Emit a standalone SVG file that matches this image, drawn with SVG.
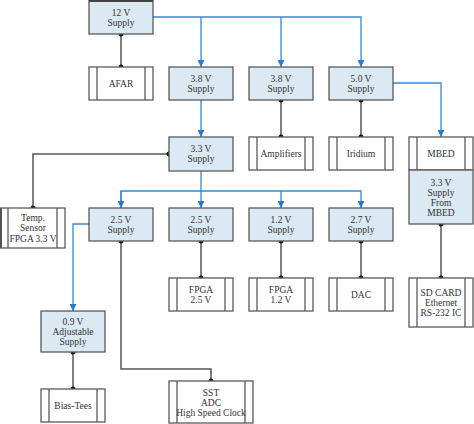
<svg xmlns="http://www.w3.org/2000/svg" width="474" height="424" viewBox="0 0 474 424">
<defs>
<style>
.sup{fill:#dbe9f2;stroke:#5a5a5a;stroke-width:1.3}
.box{fill:#fff;stroke:#5a5a5a;stroke-width:1.3}
.in{stroke:#5a5a5a;stroke-width:1.3;fill:none}
.bl{stroke:#3a87d0;stroke-width:1.3;fill:none}
.gr{stroke:#555;stroke-width:1.5;fill:none}
.dot{fill:#111}
text{font-family:"Liberation Serif","DejaVu Serif",serif;font-size:9.5px;fill:#333;text-anchor:middle}
</style>
<marker id="ah" viewBox="0 0 10 10" refX="10" refY="5" markerWidth="7" markerHeight="7" markerUnits="userSpaceOnUse" orient="auto">
<path d="M0,0 L10,5 L0,10 z" fill="#2a7cc9"/>
</marker>
</defs>
<g id="connectors">
<path class="bl" d="M153,17 H361 V67" marker-end="url(#ah)"/>
<path class="bl" d="M201,17 V67" marker-end="url(#ah)"/>
<path class="bl" d="M281,17 V67" marker-end="url(#ah)"/>
<path class="bl" d="M393,83 H441 V137" marker-end="url(#ah)"/>
<path class="bl" d="M201,100 V137" marker-end="url(#ah)"/>
<path class="bl" d="M201,171 V208" marker-end="url(#ah)"/>
<path class="bl" d="M121,208 V191 H361 V208" marker-end="url(#ah)"/>
<path class="bl" d="M121,191 V208" marker-end="url(#ah)"/>
<path class="bl" d="M281,191 V208" marker-end="url(#ah)"/>
<path class="bl" d="M89,224 H73 V311" marker-end="url(#ah)"/>
<path class="gr" d="M121,34 V67"/>
<path class="gr" d="M281,100 V137"/>
<path class="gr" d="M361,100 V137"/>
<path class="gr" d="M169,154 H33 V208"/>
<path class="gr" d="M201,241 V278"/>
<path class="gr" d="M281,241 V278"/>
<path class="gr" d="M361,241 V278"/>
<path class="gr" d="M441,224 V278"/>
<path class="gr" d="M121,241 V369 H211 V381"/>
<path class="gr" d="M73,352 V389"/>
<circle class="dot" cx="121" cy="34" r="2.5"/><circle class="dot" cx="121" cy="67" r="2.5"/>
<circle class="dot" cx="281" cy="100" r="2.5"/><circle class="dot" cx="281" cy="137" r="2.5"/>
<circle class="dot" cx="361" cy="100" r="2.5"/><circle class="dot" cx="361" cy="137" r="2.5"/>
<circle class="dot" cx="169" cy="154" r="2.5"/><circle class="dot" cx="33" cy="208" r="2.5"/>
<circle class="dot" cx="201" cy="241" r="2.5"/><circle class="dot" cx="201" cy="278" r="2.5"/>
<circle class="dot" cx="281" cy="241" r="2.5"/><circle class="dot" cx="281" cy="278" r="2.5"/>
<circle class="dot" cx="361" cy="241" r="2.5"/><circle class="dot" cx="361" cy="278" r="2.5"/>
<circle class="dot" cx="441" cy="224" r="2.5"/><circle class="dot" cx="441" cy="278" r="2.5"/>
<circle class="dot" cx="121" cy="241" r="2.5"/><circle class="dot" cx="211" cy="381" r="2.5"/>
<circle class="dot" cx="73" cy="352" r="2.5"/><circle class="dot" cx="73" cy="389" r="2.5"/>
</g>
<g id="s12"><rect class="sup" x="89" y="0.5" width="64" height="33.5"/><line x1="89" y1="1" x2="153" y2="1" stroke="#444" stroke-width="2"/><text x="121" y="16">12 V</text><text x="121" y="26">Supply</text></g>
<g id="afar"><rect class="box" x="89" y="67" width="64" height="33"/><path class="in" d="M97,67 V100 M145,67 V100"/><text x="121" y="87">AFAR</text></g>
<g id="s38a"><rect class="sup" x="169" y="67" width="64" height="33"/><text x="201" y="82">3.8 V</text><text x="201" y="92">Supply</text></g>
<g id="s38b"><rect class="sup" x="249" y="67" width="64" height="33"/><text x="281" y="82">3.8 V</text><text x="281" y="92">Supply</text></g>
<g id="s50"><rect class="sup" x="329" y="67" width="64" height="33"/><text x="361" y="82">5.0 V</text><text x="361" y="92">Supply</text></g>
<g id="s33"><rect class="sup" x="169" y="137" width="64" height="34"/><text x="201" y="152">3.3 V</text><text x="201" y="162">Supply</text></g>
<g id="amp"><rect class="box" x="249" y="137" width="64" height="33"/><path class="in" d="M257,137 V170 M305,137 V170"/><text x="281" y="157">Amplifiers</text></g>
<g id="iri"><rect class="box" x="329" y="137" width="64" height="33"/><path class="in" d="M337,137 V170 M385,137 V170"/><text x="361" y="157">Iridium</text></g>
<g id="mbed"><rect class="box" x="409" y="137" width="64" height="33"/><path class="in" d="M417,137 V170 M465,137 V170"/><text x="441" y="157">MBED</text></g>
<g id="s33m"><rect class="sup" x="409" y="170" width="64" height="54"/><text x="441" y="186">3.3 V</text><text x="441" y="196">Supply</text><text x="441" y="206">From</text><text x="441" y="216">MBED</text></g>
<g id="temp"><rect class="box" x="0.5" y="208" width="64.5" height="40"/><path class="in" d="M8,208 V248 M57,208 V248"/><line x1="1" y1="208" x2="1" y2="248" stroke="#555" stroke-width="2"/><text x="33" y="221">Temp.</text><text x="33" y="231">Sensor</text><text x="33" y="242">FPGA 3.3 V</text></g>
<g id="s25a"><rect class="sup" x="89" y="208" width="64" height="33"/><text x="121" y="223">2.5 V</text><text x="121" y="233">Supply</text></g>
<g id="s25b"><rect class="sup" x="169" y="208" width="64" height="33"/><text x="201" y="223">2.5 V</text><text x="201" y="233">Supply</text></g>
<g id="s12v"><rect class="sup" x="249" y="208" width="64" height="33"/><text x="281" y="223">1.2 V</text><text x="281" y="233">Supply</text></g>
<g id="s27"><rect class="sup" x="329" y="208" width="64" height="33"/><text x="361" y="223">2.7 V</text><text x="361" y="233">Supply</text></g>
<g id="fpga25"><rect class="box" x="169" y="278" width="64" height="33"/><path class="in" d="M177,278 V311 M225,278 V311"/><text x="201" y="293">FPGA</text><text x="201" y="303">2.5 V</text></g>
<g id="fpga12"><rect class="box" x="249" y="278" width="64" height="33"/><path class="in" d="M257,278 V311 M305,278 V311"/><text x="281" y="293">FPGA</text><text x="281" y="303">1.2 V</text></g>
<g id="dac"><rect class="box" x="329" y="278" width="64" height="33"/><path class="in" d="M337,278 V311 M385,278 V311"/><text x="361" y="298">DAC</text></g>
<g id="sd"><rect class="box" x="409" y="278" width="64" height="49"/><path class="in" d="M417,278 V327 M465,278 V327"/><text x="441" y="296">SD CARD</text><text x="441" y="306">Ethernet</text><text x="441" y="316">RS-232 IC</text></g>
<g id="s09"><rect class="sup" x="41" y="311" width="64" height="41"/><text x="73" y="325">0.9 V</text><text x="73" y="335">Adjustable</text><text x="73" y="345">Supply</text></g>
<g id="bias"><rect class="box" x="41" y="389" width="64" height="33"/><path class="in" d="M49,389 V422 M97,389 V422"/><text x="73" y="409">Bias-Tees</text></g>
<g id="sst"><rect class="box" x="169" y="381" width="84" height="42"/><path class="in" d="M177,381 V423 M245,381 V423"/><text x="211" y="396">SST</text><text x="211" y="406">ADC</text><text x="211" y="416">High Speed Clock</text></g>
</svg>
